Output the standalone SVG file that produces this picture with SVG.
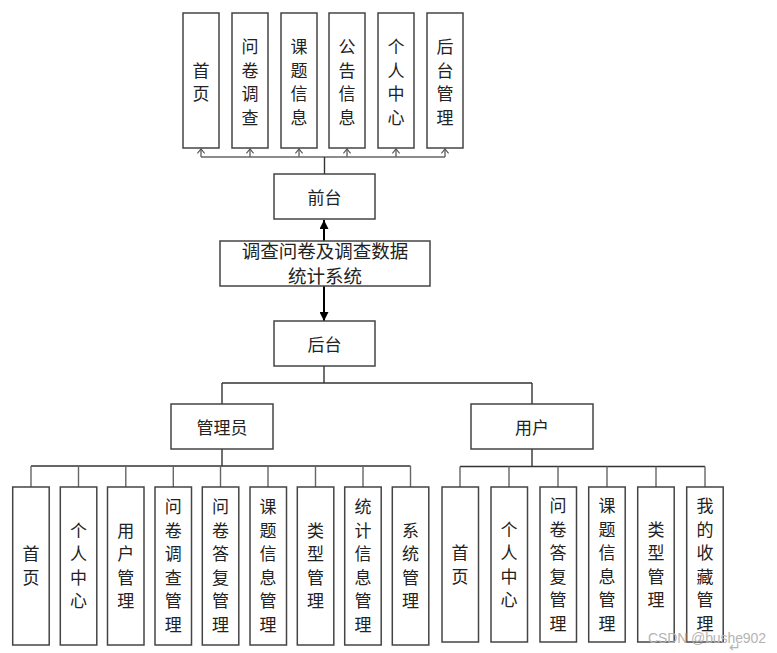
<svg xmlns="http://www.w3.org/2000/svg" width="777" height="653" viewBox="0 0 777 653">
<defs>
<style>
.box{fill:#fff;stroke:#444;stroke-width:1.5}
.t{font-family:"Noto Sans CJK SC","Liberation Sans",sans-serif;font-size:17px;fill:#222;text-anchor:middle;dominant-baseline:central}
.tb{font-size:18.5px}
.ln{fill:none;stroke:#333;stroke-width:1.4}
.gl{fill:none;stroke:#666;stroke-width:1.4}
.ar{fill:none;stroke:#000;stroke-width:2}
.wm{font-family:"Liberation Sans",sans-serif;font-size:14px;fill:#b4b4b4}
</style>
<marker id="open" viewBox="0 0 10 10" refX="9" refY="5" markerWidth="8" markerHeight="8" markerUnits="userSpaceOnUse" orient="auto">
<path d="M3.5,0.5 L9,5 L3.5,9.5" fill="none" stroke="#555" stroke-width="1.4"/>
</marker>
<marker id="fill" viewBox="0 0 10 10" refX="10" refY="5" markerWidth="10" markerHeight="9" markerUnits="userSpaceOnUse" orient="auto">
<path d="M0,0 L10,5 L0,10 Z" fill="#000"/>
</marker>
</defs>

<g id="connectors">
<path class="gl" d="M201,157 H445"/>
<path class="ln" d="M324.5,174 V157"/>
<path class="gl" d="M201,157 V149" marker-end="url(#open)"/>
<path class="gl" d="M250,157 V149" marker-end="url(#open)"/>
<path class="gl" d="M299,157 V149" marker-end="url(#open)"/>
<path class="gl" d="M347,157 V149" marker-end="url(#open)"/>
<path class="gl" d="M396,157 V149" marker-end="url(#open)"/>
<path class="gl" d="M445,157 V149" marker-end="url(#open)"/>
<path class="ar" d="M324,241 V220" marker-end="url(#fill)"/>
<path class="ar" d="M324,286 V321" marker-end="url(#fill)"/>
<path class="ln" d="M324,366 V383 M222,383 H532 M222,383 V404 M532,383 V404"/>
<path class="ln" d="M222,449 V466 M31,466 H410.5"/>
<path class="gl" d="M31,466 V487 M78.5,466 V487 M125.8,466 V487 M173.3,466 V487 M220.5,466 V487 M268,466 V487 M315.5,466 V487 M363,466 V487 M410.5,466 V487"/>
<path class="ln" d="M532,449 V466.5 M460,466.5 H705"/>
<path class="gl" d="M460,466.5 V487 M509,466.5 V487 M558,466.5 V487 M607,466.5 V487 M656,466.5 V487 M705,466.5 V487"/>
</g>

<g id="top-home"><rect class="box" x="183" y="13" width="36" height="135"/><text class="t"><tspan x="201" y="68.75">首</tspan><tspan x="201" y="92.25">页</tspan></text></g>
<g id="top-survey"><rect class="box" x="232" y="13" width="36" height="135"/><text class="t"><tspan x="250" y="45.25">问</tspan><tspan x="250" y="68.75">卷</tspan><tspan x="250" y="92.25">调</tspan><tspan x="250" y="115.75">查</tspan></text></g>
<g id="top-topic"><rect class="box" x="281" y="13" width="36" height="135"/><text class="t"><tspan x="299" y="45.25">课</tspan><tspan x="299" y="68.75">题</tspan><tspan x="299" y="92.25">信</tspan><tspan x="299" y="115.75">息</tspan></text></g>
<g id="top-notice"><rect class="box" x="329" y="13" width="36" height="135"/><text class="t"><tspan x="347" y="45.25">公</tspan><tspan x="347" y="68.75">告</tspan><tspan x="347" y="92.25">信</tspan><tspan x="347" y="115.75">息</tspan></text></g>
<g id="top-profile"><rect class="box" x="378" y="13" width="36" height="135"/><text class="t"><tspan x="396" y="45.25">个</tspan><tspan x="396" y="68.75">人</tspan><tspan x="396" y="92.25">中</tspan><tspan x="396" y="115.75">心</tspan></text></g>
<g id="top-admin"><rect class="box" x="427" y="13" width="36" height="135"/><text class="t"><tspan x="445" y="45.25">后</tspan><tspan x="445" y="68.75">台</tspan><tspan x="445" y="92.25">管</tspan><tspan x="445" y="115.75">理</tspan></text></g>

<g id="frontend"><rect class="box" x="274" y="174" width="101" height="45"/><text class="t" x="324.5" y="196.5">前台</text></g>
<g id="system"><rect class="box" x="220" y="241" width="210" height="45"/><text class="t tb"><tspan x="325" y="250">调查问卷及调查数据</tspan><tspan x="325" y="274.5">统计系统</tspan></text></g>
<g id="backend"><rect class="box" x="274" y="321" width="101" height="45"/><text class="t" x="324.5" y="343.5">后台</text></g>

<g id="admin"><rect class="box" x="171" y="404" width="102" height="45"/><text class="t" x="222" y="426.5">管理员</text></g>
<g id="user"><rect class="box" x="471" y="404" width="122" height="45"/><text class="t" x="532" y="426.5">用户</text></g>

<g id="a-home"><rect class="box" x="12.7" y="487" width="36.5" height="158"/><text class="t"><tspan x="31" y="552.25">首</tspan><tspan x="31" y="575.75">页</tspan></text></g>
<g id="a-profile"><rect class="box" x="60.3" y="487" width="36.5" height="158"/><text class="t"><tspan x="78.5" y="528.75">个</tspan><tspan x="78.5" y="552.25">人</tspan><tspan x="78.5" y="575.75">中</tspan><tspan x="78.5" y="599.25">心</tspan></text></g>
<g id="a-user"><rect class="box" x="107.5" y="487" width="36.5" height="158"/><text class="t"><tspan x="125.8" y="528.75">用</tspan><tspan x="125.8" y="552.25">户</tspan><tspan x="125.8" y="575.75">管</tspan><tspan x="125.8" y="599.25">理</tspan></text></g>
<g id="a-survey"><rect class="box" x="155" y="487" width="36.5" height="158"/><text class="t"><tspan x="173.3" y="505.25">问</tspan><tspan x="173.3" y="528.75">卷</tspan><tspan x="173.3" y="552.25">调</tspan><tspan x="173.3" y="575.75">查</tspan><tspan x="173.3" y="599.25">管</tspan><tspan x="173.3" y="622.75">理</tspan></text></g>
<g id="a-answer"><rect class="box" x="202.3" y="487" width="36.5" height="158"/><text class="t"><tspan x="220.5" y="505.25">问</tspan><tspan x="220.5" y="528.75">卷</tspan><tspan x="220.5" y="552.25">答</tspan><tspan x="220.5" y="575.75">复</tspan><tspan x="220.5" y="599.25">管</tspan><tspan x="220.5" y="622.75">理</tspan></text></g>
<g id="a-topic"><rect class="box" x="250" y="487" width="36.5" height="158"/><text class="t"><tspan x="268" y="505.25">课</tspan><tspan x="268" y="528.75">题</tspan><tspan x="268" y="552.25">信</tspan><tspan x="268" y="575.75">息</tspan><tspan x="268" y="599.25">管</tspan><tspan x="268" y="622.75">理</tspan></text></g>
<g id="a-type"><rect class="box" x="297.3" y="487" width="36.5" height="158"/><text class="t"><tspan x="315.5" y="528.75">类</tspan><tspan x="315.5" y="552.25">型</tspan><tspan x="315.5" y="575.75">管</tspan><tspan x="315.5" y="599.25">理</tspan></text></g>
<g id="a-stats"><rect class="box" x="344.7" y="487" width="36.5" height="158"/><text class="t"><tspan x="363" y="505.25">统</tspan><tspan x="363" y="528.75">计</tspan><tspan x="363" y="552.25">信</tspan><tspan x="363" y="575.75">息</tspan><tspan x="363" y="599.25">管</tspan><tspan x="363" y="622.75">理</tspan></text></g>
<g id="a-system"><rect class="box" x="392.3" y="487" width="36.5" height="158"/><text class="t"><tspan x="410.5" y="528.75">系</tspan><tspan x="410.5" y="552.25">统</tspan><tspan x="410.5" y="575.75">管</tspan><tspan x="410.5" y="599.25">理</tspan></text></g>

<g id="u-home"><rect class="box" x="442" y="487" width="36.5" height="155"/><text class="t"><tspan x="460" y="551.25">首</tspan><tspan x="460" y="574.75">页</tspan></text></g>
<g id="u-profile"><rect class="box" x="491" y="487" width="36.5" height="155"/><text class="t"><tspan x="509" y="527.75">个</tspan><tspan x="509" y="551.25">人</tspan><tspan x="509" y="574.75">中</tspan><tspan x="509" y="598.25">心</tspan></text></g>
<g id="u-answer"><rect class="box" x="540" y="487" width="36.5" height="155"/><text class="t"><tspan x="558" y="504.25">问</tspan><tspan x="558" y="527.75">卷</tspan><tspan x="558" y="551.25">答</tspan><tspan x="558" y="574.75">复</tspan><tspan x="558" y="598.25">管</tspan><tspan x="558" y="621.75">理</tspan></text></g>
<g id="u-topic"><rect class="box" x="588.7" y="487" width="36.5" height="155"/><text class="t"><tspan x="607" y="504.25">课</tspan><tspan x="607" y="527.75">题</tspan><tspan x="607" y="551.25">信</tspan><tspan x="607" y="574.75">息</tspan><tspan x="607" y="598.25">管</tspan><tspan x="607" y="621.75">理</tspan></text></g>
<g id="u-type"><rect class="box" x="637.7" y="487" width="36.5" height="155"/><text class="t"><tspan x="656" y="527.75">类</tspan><tspan x="656" y="551.25">型</tspan><tspan x="656" y="574.75">管</tspan><tspan x="656" y="598.25">理</tspan></text></g>
<g id="u-fav"><rect class="box" x="686.7" y="487" width="36.5" height="155"/><text class="t"><tspan x="705" y="504.25">我</tspan><tspan x="705" y="527.75">的</tspan><tspan x="705" y="551.25">收</tspan><tspan x="705" y="574.75">藏</tspan><tspan x="705" y="598.25">管</tspan><tspan x="705" y="621.75">理</tspan></text></g>

<text class="wm" x="648" y="643" textLength="118">CSDN @bushe902</text>
<text class="wm" x="729" y="652" font-size="10" fill="#888">↵</text>
</svg>
